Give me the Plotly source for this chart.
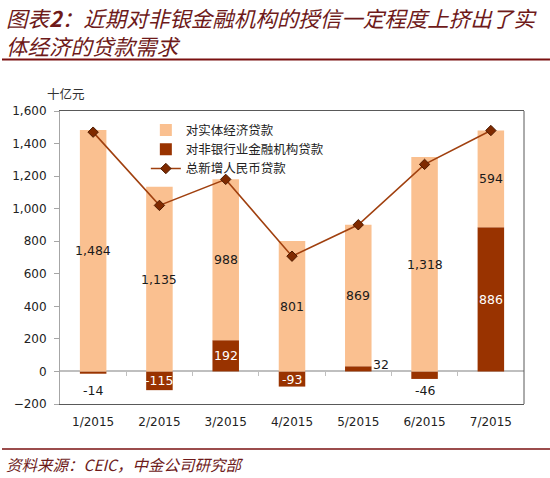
import plotly.graph_objects as go

# ---- data ----
months = ["1/2015", "2/2015", "3/2015", "4/2015", "5/2015", "6/2015", "7/2015"]
real_economy = [1484, 1135, 988, 801, 869, 1318, 594]      # 对实体经济贷款
nonbank = [-14, -115, 192, -93, 32, -46, 886]               # 对非银行业金融机构贷款
total = [r + n for r, n in zip(real_economy, nonbank)]      # 总新增人民币贷款

name_real = "对实体经济贷款"
name_nonbank = "对非银行业金融机构贷款"
name_total = "总新增人民币贷款"

title_l1 = "图表<b>2</b>：近期对非银金融机构的授信一定程度上挤出了实"
title_l2 = "体经济的贷款需求"
unit_text = "十亿元"
source_text = "资料来源：CEIC，中金公司研究部"

LIGHT = "#FAC090"
DARK = "#993300"
MAROON = "#6E1A1A"
NUMFONT = "DejaVu Sans"
CJK = "Noto Sans CJK SC"

fig = go.Figure()
fig.add_trace(go.Bar(x=months, y=nonbank, name=name_nonbank, marker_color=DARK,
                     marker_line_width=0, legendrank=2))
fig.add_trace(go.Bar(x=months, y=real_economy, name=name_real, marker_color=LIGHT,
                     marker_line_width=0, legendrank=1))
fig.add_trace(go.Scatter(x=months, y=total, name=name_total, mode="lines+markers",
                         line=dict(color="#A0400F", width=1.6),
                         marker=dict(symbol="diamond", size=8, color="#7F2A00",
                                     line=dict(color="#4D1A00", width=1)),
                         legendrank=3))
# helper axis for the tick marks on the zero line
fig.add_trace(go.Scatter(x=[], y=[], xaxis="x2", showlegend=False, hoverinfo="skip"))

annotations = []
# labels for light bars (centered in their segment)
for m, r, n in zip(months, real_economy, nonbank):
    base = n if n > 0 else 0
    annotations.append(dict(x=m, y=base + r / 2, text=f"{r:,}", showarrow=False,
                            font=dict(family=NUMFONT, size=12.5, color="#1a1a1a")))
# labels for dark bars
for m, n in zip(months, nonbank):
    if abs(n) >= 60:
        annotations.append(dict(x=m, y=n / 2, text=f"{n:,}", showarrow=False,
                                font=dict(family=NUMFONT, size=12.5, color="white")))
    elif n < 0:
        annotations.append(dict(x=m, y=0, yanchor="top", yshift=-10, text=f"{n:,}",
                                showarrow=False,
                                font=dict(family=NUMFONT, size=12.5, color="#1a1a1a")))
    else:
        annotations.append(dict(x=m, y=n, xshift=23, yshift=2, text=f"{n:,}",
                                showarrow=False,
                                font=dict(family=NUMFONT, size=12.5, color="#1a1a1a")))

# text outside the plot
annotations += [
    dict(xref="paper", yref="paper", x=-0.121, y=1.318, xanchor="left", yanchor="middle",
         text=title_l1, showarrow=False,
         font=dict(family=CJK, size=21.5, color=MAROON, style="italic")),
    dict(xref="paper", yref="paper", x=-0.121, y=1.225, xanchor="left", yanchor="middle",
         text=title_l2, showarrow=False,
         font=dict(family=CJK, size=21.5, color=MAROON, style="italic")),
    dict(xref="paper", yref="paper", x=0.013, y=1.061, xanchor="center", yanchor="middle",
         text=unit_text, showarrow=False,
         font=dict(family=CJK, size=12.5, color="#333333")),
    dict(xref="paper", yref="paper", x=-0.121, y=-0.205, xanchor="left", yanchor="middle",
         text=source_text, showarrow=False,
         font=dict(family=CJK, size=15.5, color=MAROON, style="italic")),
]

shapes = [
    dict(type="line", xref="paper", yref="paper", x0=-0.125, x1=1.056, y0=1.176, y1=1.176,
         line=dict(color="#7A1010", width=2)),
    dict(type="line", xref="paper", yref="paper", x0=-0.125, x1=1.056, y0=-0.154, y1=-0.154,
         line=dict(color="#7A1010", width=1.5)),
    dict(type="line", xref="paper", yref="paper", x0=1, x1=1, y0=0, y1=1,
         line=dict(color="#595959", width=1)),
]

fig.update_layout(
    width=550, height=478,
    margin=dict(l=58, r=26, t=111, b=74),
    paper_bgcolor="white", plot_bgcolor="white",
    barmode="relative", bargap=0.6,
    showlegend=True,
    legend=dict(x=0.185, y=0.985, xanchor="left", yanchor="top",
                bgcolor="rgba(0,0,0,0)", font=dict(family=CJK, size=12.5, color="#222222"),
                tracegroupgap=0, itemwidth=30),
    xaxis=dict(type="category", showgrid=False, zeroline=False,
               showline=True, linecolor="#595959", linewidth=1, mirror=True,
               ticks="", ticklabelstandoff=7,
               tickfont=dict(family=NUMFONT, size=12, color="#222222")),
    xaxis2=dict(overlaying="x", anchor="free", position=200 / 1800, range=[-0.5, 6.5],
                tickvals=[0.5, 1.5, 2.5, 3.5, 4.5, 5.5], ticks="outside", ticklen=4,
                tickcolor="#BFBFBF", showticklabels=False, showgrid=False,
                zeroline=False, showline=False),
    yaxis=dict(range=[-200, 1600], dtick=200, tickformat=",", showgrid=False,
               zeroline=True, zerolinecolor="#BFBFBF", zerolinewidth=1.5,
               showline=True, linecolor="#A6A6A6", linewidth=1,
               ticks="outside", ticklen=5, tickcolor="#A6A6A6", ticklabelstandoff=5,
               tickfont=dict(family=NUMFONT, size=12, color="#222222")),
    annotations=annotations,
    shapes=shapes,
)

fig.write_html("out.html", config={"displayModeBar": False},
               post_script="document.body.style.margin='0';")
